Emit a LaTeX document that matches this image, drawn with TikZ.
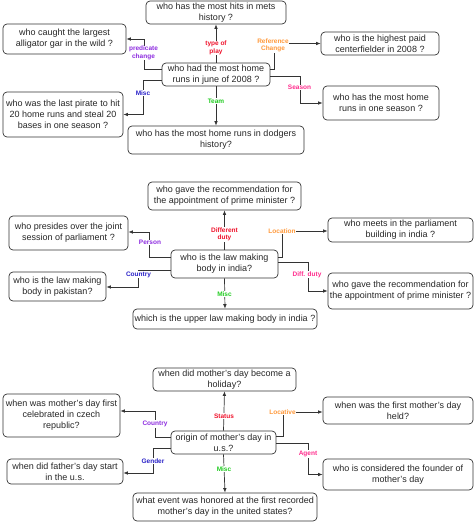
\documentclass[tikz,border=0pt]{standalone}
\usepackage{fontspec}
\setmainfont{Liberation Sans}
\usetikzlibrary{arrows.meta}
\definecolor{lred}{HTML}{F0142D}
\definecolor{lpurple}{HTML}{8E2DE0}
\definecolor{lblue}{HTML}{2A22C8}
\definecolor{lgreen}{HTML}{22CC22}
\definecolor{lorange}{HTML}{FF9A3C}
\definecolor{lpink}{HTML}{FF2E8E}
\definecolor{edge}{HTML}{333333}
\tikzset{
  qbox/.style={draw=edge, line width=0.7pt, rounded corners=4pt, align=center,
    inner sep=0.5pt, font=\fontsize{9}{11}\selectfont, text=black!85},
  lab/.style={fill=white, inner sep=0.6pt, align=center,
    font=\fontsize{6.5}{7.6}\selectfont\bfseries},
  conn/.style={draw=edge, line width=0.7pt},
  arr/.style={conn, -{Latex[length=4.5pt,width=3.6pt]}}
}
\begin{document}
\begin{tikzpicture}[x=1pt,y=-1pt]
\useasboundingbox (0,0) rectangle (474,522);
% ---------------- Section 1 ----------------
\node[qbox, minimum width=140pt, minimum height=23pt] (mets) at (216,12.5) {who has the most hits in mets\\history ?};
\node[qbox, minimum width=123pt, minimum height=30pt] (gar) at (64.5,39) {who caught the largest\\alligator gar in the wild ?};
\node[qbox, minimum width=108pt, minimum height=23pt] (june) at (216,74.5) {who had the most home\\runs in june of 2008 ?};
\node[qbox, minimum width=120pt, minimum height=45pt] (pirate) at (63,114.5) {who was the last pirate to hit\\20 home runs and steal 20\\bases in one season ?};
\node[qbox, minimum width=176pt, minimum height=28pt] (dodgers) at (216,140) {who has the most home runs in dodgers\\history?};
\node[qbox, minimum width=118pt, minimum height=23pt] (paid) at (380,43.5) {who is the highest paid\\centerfielder in 2008 ?};
\node[qbox, minimum width=116pt, minimum height=34pt] (season) at (381,103) {who has the most home\\runs in one season ?};

\draw[arr] (june.north) -- (mets.south);
\node[lab, text=lred] (l1a) at (216,48) {type of\\play};
\draw[arr] ([yshift=5.5pt]june.west) -- (144,69) -- (144,39) -- (gar.east);
\node[lab, text=lpurple] (l1b) at (143.5,53) {predicate\\change};
\draw[arr] ([yshift=-5.5pt]june.west) -- (143,80) -- (143,114.5) -- (pirate.east);
\node[lab, text=lblue] (l1c) at (143,93) {Misc};
\draw[arr] (june.south) -- (dodgers.north);
\node[lab, text=lgreen] (l1d) at (216,101) {Team};
\draw[arr] ([yshift=5.5pt]june.east) -- (274,69) -- (274,43.5) -- (paid.west);
\node[lab, text=lorange] (l1e) at (273,45.5) {Reference\\Change};
\draw[arr] ([yshift=-1.5pt]june.east) -- (300,76) -- (300,103) -- (season.west);
\node[lab, text=lpink] (l1f) at (299.5,87.5) {Season};

% ---------------- Section 2 ----------------
\node[qbox, minimum width=153pt, minimum height=28pt] (pmA) at (224.5,196) {who gave the recommendation for\\the appointment of prime minister ?};
\node[qbox, minimum width=119pt, minimum height=34pt] (joint) at (68.5,233) {who presides over the joint\\session of parliament ?};
\node[qbox, minimum width=107pt, minimum height=28pt] (india) at (224.5,264) {who is the law making\\body in india?};
\node[qbox, minimum width=97pt, minimum height=29pt] (pak) at (57.5,286.5) {who is the law making\\body in pakistan?};
\node[qbox, minimum width=184pt, minimum height=20pt] (upper) at (225,319) {which is the upper law making body in india ?};
\node[qbox, minimum width=145pt, minimum height=24pt] (meets) at (400.5,230) {who meets in the parliament\\building in india ?};
\node[qbox, minimum width=145pt, minimum height=36pt] (pmB) at (400.5,291) {who gave the recommendation for\\the appointment of prime minister ?};

\draw[arr] (india.north) -- (pmA.south);
\node[lab, text=lred] (l2a) at (224.5,234.5) {Different\\duty};
\draw[arr] ([yshift=7pt]india.west) -- (149,257) -- (149,232) -- (joint.east |- 0,232);
\node[lab, text=lpurple] (l2b) at (150,242.5) {Person};
\draw[arr] ([yshift=-6pt]india.west) -- (138,270) -- (138,287) -- (pak.east |- 0,287);
\node[lab, text=lblue] (l2c) at (138.5,274.5) {Country};
\draw[arr] (india.south) -- (upper.north);
\node[lab, text=lgreen] (l2d) at (224.5,294) {Misc};
\draw[arr] ([yshift=7pt]india.east) -- (282,257) -- (282,231) -- (meets.west |- 0,231);
\node[lab, text=lorange] (l2e) at (282,231.5) {Location};
\draw[arr] ([yshift=2pt]india.east) -- (308,262) -- (308,291) -- (pmB.west);
\node[lab, text=lpink] (l2f) at (307,274.5) {Diff. duty};

% ---------------- Section 3 ----------------
\node[qbox, minimum width=143pt, minimum height=23pt] (holiday) at (224.5,379.5) {when did mother's day become a\\holiday?};
\node[qbox, minimum width=117pt, minimum height=43pt] (czech) at (61.5,415.5) {when was mother's day first\\celebrated in czech\\republic?};
\node[qbox, minimum width=105pt, minimum height=23pt] (origin) at (223.5,442.5) {origin of mother's day in\\u.s.?};
\node[qbox, minimum width=116pt, minimum height=25pt] (father) at (65,471.5) {when did father's day start\\in the u.s.};
\node[qbox, minimum width=184pt, minimum height=28pt] (event) at (225,507) {what event was honored at the first recorded\\mother's day in the united states?};
\node[qbox, minimum width=150pt, minimum height=27pt] (held) at (398,410.5) {when was the first mother's day\\held?};
\node[qbox, minimum width=150pt, minimum height=31pt] (founder) at (398,474.5) {who is considered the founder of\\mother's day};

\draw[arr] (origin.north) -- (holiday.south);
\node[lab, text=lred] (l3a) at (224,416) {Status};
\draw[arr] ([yshift=5.5pt]origin.west) -- (155,437) -- (155,411) -- (czech.east |- 0,411);
\node[lab, text=lpurple] (l3b) at (155,424) {Country};
\draw[arr] ([yshift=-5.5pt]origin.west) -- (153,448) -- (153,473) -- (father.east |- 0,473);
\node[lab, text=lblue] (l3c) at (153,461) {Gender};
\draw[arr] (origin.south) -- (event.north);
\node[lab, text=lgreen] (l3d) at (224,469) {Misc};
\draw[arr] ([yshift=6.5pt]origin.east) -- (283,436) -- (283,412) -- (held.west |- 0,412);
\node[lab, text=lorange] (l3e) at (282.5,412.5) {Locative};
\draw[arr] ([yshift=-0.5pt]origin.east) -- (308,443) -- (308,474.5) -- (founder.west);
\node[lab, text=lpink] (l3f) at (308,454) {Agent};
\end{tikzpicture}
\end{document}
